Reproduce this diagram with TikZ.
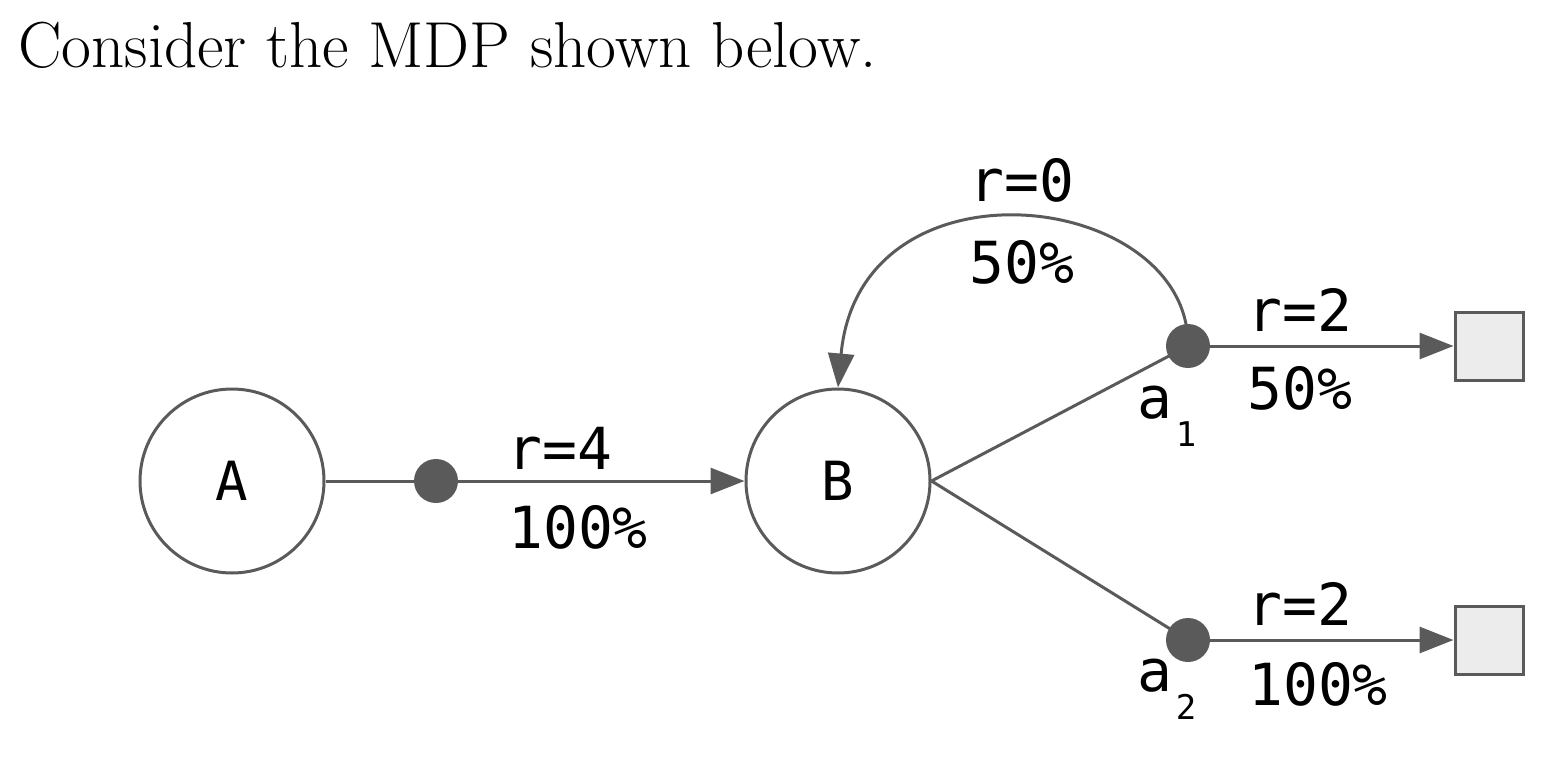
\documentclass[tikz,border=0pt]{standalone}
\usepackage{fontspec}
\newfontfamily\monof{DejaVu Sans Mono}
\usetikzlibrary{arrows.meta}
\definecolor{lc}{HTML}{5A5A5A}
\begin{document}
\begin{tikzpicture}[x=1pt,y=-1pt,
  edge/.style={draw=lc,line width=3pt},
  arr/.style={edge,-{Triangle[length=34pt,width=26pt]}},
  state/.style={circle,draw=lc,line width=3pt,minimum size=184pt,inner sep=0pt,font=\monof\fontsize{54}{60}\selectfont},
  chance/.style={circle,fill=lc,minimum size=44pt,inner sep=0pt},
  term/.style={draw=lc,line width=3pt,fill=gray!15,minimum size=68pt,inner sep=0pt},
  lab/.style={font=\monof\fontsize{58}{64}\selectfont,inner sep=0pt},
  sub/.style={font=\monof\fontsize{34}{40}\selectfont,inner sep=0pt}]
\useasboundingbox (0,0) rectangle (1563,781);
\node[anchor=west,inner sep=0pt,font=\fontsize{65}{78}\selectfont] (title) at (18,45) {Consider the MDP shown below.};
\node[state] (A) at (232,481) {A};
\node[chance] (d) at (436,481) {};
\node[state] (B) at (838,481) {B};
\node[chance] (a1) at (1188,346) {};
\node[chance] (a2) at (1188,640) {};
\node[term] (t1) at (1489,346) {};
\node[term] (t2) at (1489,640) {};
\draw[edge] (A) -- (d);
\draw[arr] (d) -- (B);
\draw[edge] (B.east) -- (a1.center);
\draw[edge] (B.east) -- (a2.center);
\draw[arr] (a1) -- (t1);
\draw[arr] (a2) -- (t2);
\draw[arr] (a1.center) .. controls (1190,190) and (860,150) .. (B.north);
\node[lab] (l1) at (560,448) {r=4};
\node[lab] (l2) at (578,527) {100\%};
\node[lab] (l3) at (1022,180) {r=0};
\node[lab] (l4) at (1022,262) {50\%};
\node[lab] (l5) at (1300,310) {r=2};
\node[lab] (l6) at (1300,388) {50\%};
\node[lab] (l7) at (1300,604) {r=2};
\node[lab] (l8) at (1318,684) {100\%};
\node[lab] (s1) at (1155,403) {a};
\node[sub] (s1b) at (1186,434) {1};
\node[lab] (s2) at (1155,676) {a};
\node[sub] (s2b) at (1186,707) {2};
\end{tikzpicture}
\end{document}
